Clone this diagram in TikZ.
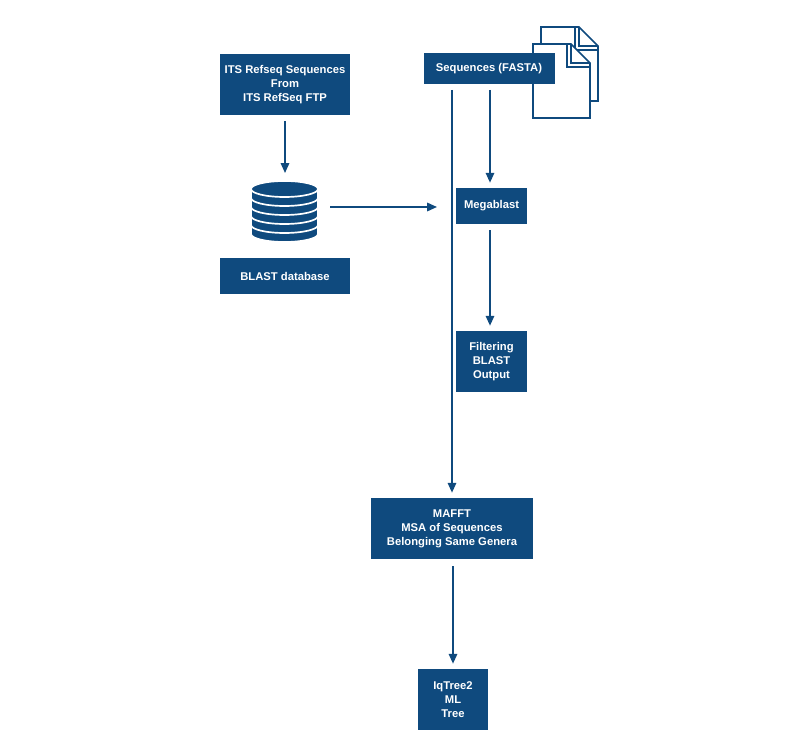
\documentclass[tikz,border=0pt]{standalone}
\usepackage{fontspec}
\setmainfont{Liberation Sans}
\usetikzlibrary{arrows.meta,positioning,calc}
\definecolor{navy}{HTML}{0F4A7E}

\begin{document}
\begin{tikzpicture}[x=0.025cm,y=-0.025cm,
    box/.style={fill=navy, text=white, font=\fontsize{8}{10}\selectfont\bfseries, align=center, inner sep=0pt},
    link/.style={draw=navy, line width=1.2pt, -{Triangle[length=7pt,width=6pt]}},
    page/.style={draw=navy, line width=1.1pt, fill=white}]
\useasboundingbox (0,0) rectangle (800,740);

% file icons
\foreach \x/\y in {541/27, 533/44}{
  \draw[page] (\x,\y) -- ++(38,0) -- ++(19,19) -- ++(0,55) -- ++(-57,0) -- cycle;
  \draw[page, fill=none] (\x+38,\y) -- ++(0,19) -- ++(19,0);
  \draw[navy, line width=0.8pt] (\x+34,\y) -- ++(0,23) -- ++(23,0);
}

% nodes
\node[box, minimum width=130*0.025cm, minimum height=61*0.025cm] (its) at (285,84.5) {ITS Refseq Sequences\\From\\ITS RefSeq FTP};
\node[box, minimum width=130*0.025cm, minimum height=36*0.025cm] (bdb) at (285,276) {BLAST database};
\node[box, minimum width=131*0.025cm, minimum height=31*0.025cm] (seq) at (489,69) {Sequences (FASTA)};
\node[box, minimum width=71*0.025cm, minimum height=36*0.025cm] (mega) at (491.5,206) {Megablast};
\node[box, minimum width=71*0.025cm, minimum height=61*0.025cm] (filt) at (491.5,361.5) {Filtering\\BLAST\\Output};
\node[box, minimum width=162*0.025cm, minimum height=61*0.025cm] (mafft) at (452,528.5) {MAFFT\\MSA of Sequences\\Belonging Same Genera};
\node[box, minimum width=70*0.025cm, minimum height=61*0.025cm] (iq) at (453,699.5) {IqTree2\\ML\\Tree};

% database stack
\foreach \y in {225,216,207,198,189}{
  \filldraw[fill=navy, draw=white, line width=1.2pt] (251,\y) -- (251,\y+9) arc[start angle=180,end angle=0,x radius=33.5,y radius=8] -- (318,\y) arc[start angle=0,end angle=-180,x radius=33.5,y radius=8] -- cycle;
}
\filldraw[fill=navy, draw=white, line width=1.2pt] (284.5,189) ellipse[x radius=33.5,y radius=8];
\coordinate (dbin) at (285,173);
\coordinate (dbout) at (330,207);

% connectors
\draw[link] (its.south) ++(0,6) -- (dbin);
\draw[link] (dbout) -- (437,207);
\draw[link] (452,90) -- ($(mafft.north)+(0,-5)$);
\draw[link] (490,90) -- ($(mega.north)+(-1.5,-5)$);
\draw[link] ($(mega.south)+(-1.5,6)$) -- ($(filt.north)+(-1.5,-5)$);
\draw[link] ($(mafft.south)+(1,7)$) -- ($(iq.north)+(0,-5)$);
\end{tikzpicture}
\end{document}
